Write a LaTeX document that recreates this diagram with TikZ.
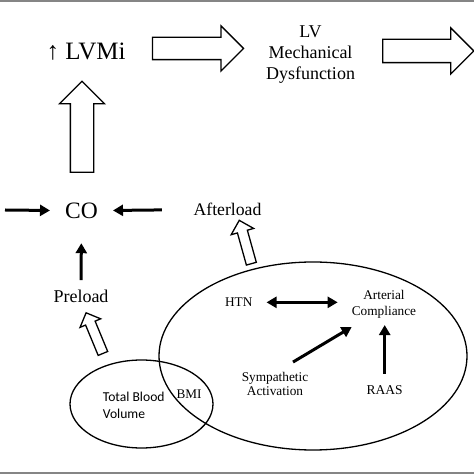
\documentclass[tikz,border=0pt]{standalone}
\usepackage{fontspec}
\setmainfont{Liberation Serif}
\newfontfamily\calfont{Carlito}
\usetikzlibrary{shapes.arrows,arrows.meta,calc}

\begin{document}
\begin{tikzpicture}[
            x=1pt, y=1pt,
            every node/.style={inner sep=0pt},
            lbl/.style={anchor=base, align=center},
            blackarrow/.style={line width=3pt, -{Triangle[length=10pt,width=11pt]}},
            hollow/.style={draw, single arrow, fill=white, line width=1.3pt,
                inner xsep=0pt, single arrow head indent=0pt},
            ]
            \useasboundingbox (0,0) rectangle (474,474);
            \fill[black!48] (0,472) rectangle (474,474);
            \fill[black!48] (0,0) rectangle (474,2);

            % labels (base = last line)
            \node[lbl, font=\fontsize{25}{30}\selectfont] (lvmi) at (86,414) {↑ LVMi};
            \node[lbl, font=\fontsize{18}{21}\selectfont] (lvdys) at (310.5,394) {LV\\Mechanical\\Dysfunction};
            \node[lbl, font=\fontsize{23.5}{28}\selectfont] (co) at (81.5,255.7) {CO};
            \node[lbl, font=\fontsize{17.7}{21}\selectfont] (afterload) at (227.5,258.3) {Afterload};
            \node[lbl, font=\fontsize{18}{21}\selectfont] (preload) at (81,171.3) {Preload};
            \node[lbl, font=\fontsize{13.3}{16}\selectfont] (htn) at (238.7,167.3) {HTN};
            \node[lbl, font=\fontsize{13.3}{16}\selectfont] (arterial) at (384,158) {Arterial\\Compliance};
            \node[lbl, font=\fontsize{13.3}{14.5}\selectfont] (symp) at (275,78) {Sympathetic\\Activation};
            \node[lbl, font=\fontsize{13.5}{16}\selectfont] (raas) at (384.7,79) {RAAS};
            \node[lbl, font=\fontsize{13.2}{16}\selectfont] (bmi) at (189,75.7) {BMI};
            \node[anchor=base west, align=left, font=\calfont\fontsize{13.6}{16.6}\selectfont] (tbv) at (102.7,55.7) {Total Blood\\Volume};

            % groups
            \draw[line width=1.3pt] (313,118) ellipse [x radius=154, y radius=94];
            \draw[line width=1.3pt] (141.5,70) ellipse [x radius=71.5, y radius=44];

            % hollow arrows
            \node[hollow, minimum height=91pt, inner ysep=10.5pt, single arrow head extend=11.5pt] (toLV) at (192.5,425.5) {};
            \node[hollow, minimum height=91pt, inner ysep=11pt, single arrow head extend=11.5pt] (fromLV) at (422.5,423) {};
            \node[hollow, minimum height=91pt, inner ysep=11pt, single arrow head extend=11pt, rotate=90] (toLVMi) at (82,341.5) {};
            \node[hollow, minimum height=45pt, inner ysep=4.5pt, single arrow head extend=6.5pt, rotate=105.6] (toAfter) at (246,229.5) {};
            \node[hollow, minimum height=44pt, inner ysep=4.5pt, single arrow head extend=6pt, rotate=112.5] (toPre) at (95.5,138.5) {};

            % black arrows
            \coordinate (coin) at (5,264);
            \draw[blackarrow, shorten >=15pt] (coin) -- (co.west);
            \draw[blackarrow, shorten <=31.6pt, shorten >=15pt] (afterload.west) -- (co.east);
            \draw[blackarrow, shorten <=10pt, shorten >=24.5pt] (preload.north) -- (co.south);
            \draw[blackarrow, {Triangle[length=10pt,width=11pt]}-{Triangle[length=10pt,width=11pt]},
                shorten <=14pt, shorten >=14pt] (htn.east) -- (htn.east -| arterial.west);
            \draw[blackarrow] ($(symp.north)+(18,10)$) -- ($(arterial.south west)+(0,-8)$);
            \draw[blackarrow, shorten <=12pt, shorten >=6pt] (raas.north) -- (raas.north |- arterial.south);
        \end{tikzpicture}
\end{document}
